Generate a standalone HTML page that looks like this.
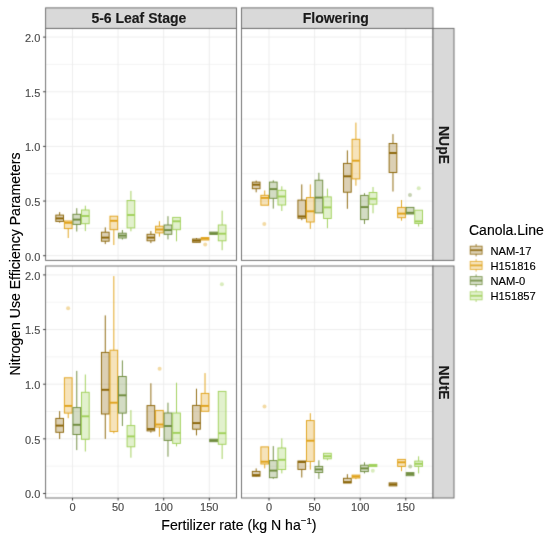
<!DOCTYPE html>
<html><head><meta charset="utf-8"><style>
html,body{margin:0;padding:0;background:#fff;width:550px;height:539px;overflow:hidden}
svg{display:block}
text{font-family:"Liberation Sans",Arial,sans-serif}
.st{font-size:14px;font-weight:bold;fill:#1a1a1a;stroke:#1a1a1a;stroke-width:0.15px}
.ax{font-size:11px;fill:#4d4d4d;stroke:#4d4d4d;stroke-width:0.15px}
.ti{font-size:14.1px;fill:#000;stroke:#000;stroke-width:0.15px}
.lt{font-size:14px;fill:#000;stroke:#000;stroke-width:0.15px}
.ll{font-size:11.2px;fill:#000;stroke:#000;stroke-width:0.15px}
</style></head><body>
<svg width="550" height="539" viewBox="0 0 550 539">
<defs><filter id="bl" x="0" y="0" width="550" height="539" filterUnits="userSpaceOnUse" color-interpolation-filters="sRGB"><feConvolveMatrix order="3" kernelMatrix="1 6 1 6 36 6 1 6 1" divisor="64" edgeMode="duplicate"/></filter></defs>
<g filter="url(#bl)">
<rect width="550" height="539" fill="#fff"/>
<line x1="45.6" x2="236.5" y1="228.38" y2="228.38" stroke="#ebebeb" stroke-width="0.6"/>
<line x1="45.6" x2="236.5" y1="173.72" y2="173.72" stroke="#ebebeb" stroke-width="0.6"/>
<line x1="45.6" x2="236.5" y1="119.07" y2="119.07" stroke="#ebebeb" stroke-width="0.6"/>
<line x1="45.6" x2="236.5" y1="64.42" y2="64.42" stroke="#ebebeb" stroke-width="0.6"/>
<line x1="45.6" x2="236.5" y1="255.7" y2="255.7" stroke="#ebebeb" stroke-width="0.9"/>
<line x1="45.6" x2="236.5" y1="201.05" y2="201.05" stroke="#ebebeb" stroke-width="0.9"/>
<line x1="45.6" x2="236.5" y1="146.4" y2="146.4" stroke="#ebebeb" stroke-width="0.9"/>
<line x1="45.6" x2="236.5" y1="91.75" y2="91.75" stroke="#ebebeb" stroke-width="0.9"/>
<line x1="45.6" x2="236.5" y1="37.1" y2="37.1" stroke="#ebebeb" stroke-width="0.9"/>
<line x1="72.5" x2="72.5" y1="28.4" y2="260.4" stroke="#ebebeb" stroke-width="0.9"/>
<line x1="118.1" x2="118.1" y1="28.4" y2="260.4" stroke="#ebebeb" stroke-width="0.9"/>
<line x1="163.7" x2="163.7" y1="28.4" y2="260.4" stroke="#ebebeb" stroke-width="0.9"/>
<line x1="209.3" x2="209.3" y1="28.4" y2="260.4" stroke="#ebebeb" stroke-width="0.9"/>
<g stroke="#8b6508" stroke-width="0.95">
<line x1="59.67" x2="59.67" y1="212.1" y2="215.1"/>
<line x1="59.67" x2="59.67" y1="221.4" y2="222.7"/>
<rect x="55.82" y="215.1" width="7.7" height="6.3" fill="#8b6508" fill-opacity="0.3"/>
<line x1="55.82" x2="63.52" y1="218.4" y2="218.4" stroke-width="1.9"/>
</g>
<g stroke="#e0a21a" stroke-width="0.95">
<line x1="68.23" x2="68.23" y1="228.6" y2="238"/>
<rect x="64.38" y="221" width="7.7" height="7.6" fill="#e0a21a" fill-opacity="0.3"/>
<line x1="64.38" x2="72.08" y1="222.8" y2="222.8" stroke-width="1.9"/>
</g>
<g stroke="#6e8b3d" stroke-width="0.95">
<line x1="76.78" x2="76.78" y1="208.2" y2="214.3"/>
<line x1="76.78" x2="76.78" y1="224.4" y2="231.5"/>
<rect x="72.93" y="214.3" width="7.7" height="10.1" fill="#6e8b3d" fill-opacity="0.3"/>
<line x1="72.93" x2="80.63" y1="219.6" y2="219.6" stroke-width="1.9"/>
</g>
<g stroke="#a0d05a" stroke-width="0.95">
<line x1="85.33" x2="85.33" y1="205.7" y2="210"/>
<line x1="85.33" x2="85.33" y1="223.7" y2="231.1"/>
<rect x="81.48" y="210" width="7.7" height="13.7" fill="#a0d05a" fill-opacity="0.3"/>
<line x1="81.48" x2="89.18" y1="216" y2="216" stroke-width="1.9"/>
</g>
<g stroke="#8b6508" stroke-width="0.95">
<line x1="105.28" x2="105.28" y1="227.4" y2="232.2"/>
<line x1="105.28" x2="105.28" y1="241.2" y2="244.1"/>
<rect x="101.43" y="232.2" width="7.7" height="9" fill="#8b6508" fill-opacity="0.3"/>
<line x1="101.43" x2="109.13" y1="237.6" y2="237.6" stroke-width="1.9"/>
</g>
<g stroke="#e0a21a" stroke-width="0.95">
<line x1="113.83" x2="113.83" y1="229.7" y2="245"/>
<rect x="109.98" y="216.2" width="7.7" height="13.5" fill="#e0a21a" fill-opacity="0.3"/>
<line x1="109.98" x2="117.68" y1="220.8" y2="220.8" stroke-width="1.9"/>
</g>
<g stroke="#6e8b3d" stroke-width="0.95">
<line x1="122.38" x2="122.38" y1="230" y2="233.2"/>
<line x1="122.38" x2="122.38" y1="238" y2="239.5"/>
<rect x="118.53" y="233.2" width="7.7" height="4.8" fill="#6e8b3d" fill-opacity="0.3"/>
<line x1="118.53" x2="126.23" y1="235.6" y2="235.6" stroke-width="1.9"/>
</g>
<g stroke="#a0d05a" stroke-width="0.95">
<line x1="130.92" x2="130.92" y1="190.9" y2="200.5"/>
<line x1="130.92" x2="130.92" y1="227.9" y2="231.3"/>
<rect x="127.07" y="200.5" width="7.7" height="27.4" fill="#a0d05a" fill-opacity="0.3"/>
<line x1="127.07" x2="134.77" y1="215" y2="215" stroke-width="1.9"/>
</g>
<g stroke="#8b6508" stroke-width="0.95">
<line x1="150.88" x2="150.88" y1="231.1" y2="234.3"/>
<line x1="150.88" x2="150.88" y1="240.8" y2="243.1"/>
<rect x="147.03" y="234.3" width="7.7" height="6.5" fill="#8b6508" fill-opacity="0.3"/>
<line x1="147.03" x2="154.72" y1="237.6" y2="237.6" stroke-width="1.9"/>
</g>
<g stroke="#e0a21a" stroke-width="0.95">
<line x1="159.42" x2="159.42" y1="221.2" y2="226.2"/>
<line x1="159.42" x2="159.42" y1="232.9" y2="236.6"/>
<rect x="155.57" y="226.2" width="7.7" height="6.7" fill="#e0a21a" fill-opacity="0.3"/>
<line x1="155.57" x2="163.27" y1="229.5" y2="229.5" stroke-width="1.9"/>
</g>
<g stroke="#6e8b3d" stroke-width="0.95">
<line x1="167.97" x2="167.97" y1="216.2" y2="225"/>
<line x1="167.97" x2="167.97" y1="234.3" y2="239.4"/>
<rect x="164.12" y="225" width="7.7" height="9.3" fill="#6e8b3d" fill-opacity="0.3"/>
<line x1="164.12" x2="171.82" y1="230.1" y2="230.1" stroke-width="1.9"/>
</g>
<g stroke="#a0d05a" stroke-width="0.95">
<line x1="176.53" x2="176.53" y1="229.7" y2="241.3"/>
<rect x="172.68" y="217.4" width="7.7" height="12.3" fill="#a0d05a" fill-opacity="0.3"/>
<line x1="172.68" x2="180.38" y1="221.3" y2="221.3" stroke-width="1.9"/>
</g>
<g stroke="#8b6508" stroke-width="0.95">
<line x1="196.48" x2="196.48" y1="238" y2="239"/>
<line x1="196.48" x2="196.48" y1="242.3" y2="242.5"/>
<rect x="192.63" y="239" width="7.7" height="3.3" fill="#8b6508" fill-opacity="0.3"/>
<line x1="192.63" x2="200.33" y1="240.6" y2="240.6" stroke-width="1.9"/>
</g>
<g stroke="#e0a21a" stroke-width="0.95">
<rect x="201.18" y="237.6" width="7.7" height="2.4" fill="#e0a21a" fill-opacity="0.3"/>
<line x1="201.18" x2="208.88" y1="238.6" y2="238.6" stroke-width="1.9"/>
</g>
<g stroke="#6e8b3d" stroke-width="0.95">
<rect x="209.73" y="232.1" width="7.7" height="2.3" fill="#6e8b3d" fill-opacity="0.3"/>
<line x1="209.73" x2="217.43" y1="233.3" y2="233.3" stroke-width="1.9"/>
</g>
<g stroke="#a0d05a" stroke-width="0.95">
<line x1="222.13" x2="222.13" y1="210.7" y2="225"/>
<line x1="222.13" x2="222.13" y1="240.8" y2="250.2"/>
<rect x="218.28" y="225" width="7.7" height="15.8" fill="#a0d05a" fill-opacity="0.3"/>
<line x1="218.28" x2="225.98" y1="233.7" y2="233.7" stroke-width="1.9"/>
</g>
<circle cx="205.2" cy="244.4" r="2" fill="#e0a21a" fill-opacity="0.4"/>
<rect x="45.6" y="28.4" width="190.9" height="232" fill="none" stroke="#6a6a6a" stroke-width="0.95"/>
<line x1="241.5" x2="433" y1="228.38" y2="228.38" stroke="#ebebeb" stroke-width="0.6"/>
<line x1="241.5" x2="433" y1="173.72" y2="173.72" stroke="#ebebeb" stroke-width="0.6"/>
<line x1="241.5" x2="433" y1="119.07" y2="119.07" stroke="#ebebeb" stroke-width="0.6"/>
<line x1="241.5" x2="433" y1="64.42" y2="64.42" stroke="#ebebeb" stroke-width="0.6"/>
<line x1="241.5" x2="433" y1="255.7" y2="255.7" stroke="#ebebeb" stroke-width="0.9"/>
<line x1="241.5" x2="433" y1="201.05" y2="201.05" stroke="#ebebeb" stroke-width="0.9"/>
<line x1="241.5" x2="433" y1="146.4" y2="146.4" stroke="#ebebeb" stroke-width="0.9"/>
<line x1="241.5" x2="433" y1="91.75" y2="91.75" stroke="#ebebeb" stroke-width="0.9"/>
<line x1="241.5" x2="433" y1="37.1" y2="37.1" stroke="#ebebeb" stroke-width="0.9"/>
<line x1="269" x2="269" y1="28.4" y2="260.4" stroke="#ebebeb" stroke-width="0.9"/>
<line x1="314.6" x2="314.6" y1="28.4" y2="260.4" stroke="#ebebeb" stroke-width="0.9"/>
<line x1="360.2" x2="360.2" y1="28.4" y2="260.4" stroke="#ebebeb" stroke-width="0.9"/>
<line x1="405.8" x2="405.8" y1="28.4" y2="260.4" stroke="#ebebeb" stroke-width="0.9"/>
<g stroke="#8b6508" stroke-width="0.95">
<line x1="256.18" x2="256.18" y1="180.6" y2="182.1"/>
<line x1="256.18" x2="256.18" y1="188.7" y2="192.3"/>
<rect x="252.33" y="182.1" width="7.7" height="6.6" fill="#8b6508" fill-opacity="0.3"/>
<line x1="252.33" x2="260.03" y1="184.7" y2="184.7" stroke-width="1.9"/>
</g>
<g stroke="#e0a21a" stroke-width="0.95">
<line x1="264.72" x2="264.72" y1="190.5" y2="195.3"/>
<rect x="260.87" y="195.3" width="7.7" height="9.9" fill="#e0a21a" fill-opacity="0.3"/>
<line x1="260.87" x2="268.57" y1="197.9" y2="197.9" stroke-width="1.9"/>
</g>
<g stroke="#6e8b3d" stroke-width="0.95">
<line x1="273.27" x2="273.27" y1="180.3" y2="182.1"/>
<line x1="273.27" x2="273.27" y1="198.3" y2="208.6"/>
<rect x="269.42" y="182.1" width="7.7" height="16.2" fill="#6e8b3d" fill-opacity="0.3"/>
<line x1="269.42" x2="277.12" y1="189.1" y2="189.1" stroke-width="1.9"/>
</g>
<g stroke="#a0d05a" stroke-width="0.95">
<line x1="281.82" x2="281.82" y1="186.3" y2="190.3"/>
<line x1="281.82" x2="281.82" y1="205" y2="211"/>
<rect x="277.97" y="190.3" width="7.7" height="14.7" fill="#a0d05a" fill-opacity="0.3"/>
<line x1="277.97" x2="285.67" y1="196.5" y2="196.5" stroke-width="1.9"/>
</g>
<g stroke="#8b6508" stroke-width="0.95">
<line x1="301.77" x2="301.77" y1="184.4" y2="200.1"/>
<line x1="301.77" x2="301.77" y1="218.2" y2="220.2"/>
<rect x="297.92" y="200.1" width="7.7" height="18.1" fill="#8b6508" fill-opacity="0.3"/>
<line x1="297.92" x2="305.62" y1="216.4" y2="216.4" stroke-width="1.9"/>
</g>
<g stroke="#e0a21a" stroke-width="0.95">
<line x1="310.32" x2="310.32" y1="184.4" y2="197.6"/>
<line x1="310.32" x2="310.32" y1="222" y2="228.9"/>
<rect x="306.47" y="197.6" width="7.7" height="24.4" fill="#e0a21a" fill-opacity="0.3"/>
<line x1="306.47" x2="314.17" y1="211.3" y2="211.3" stroke-width="1.9"/>
</g>
<g stroke="#6e8b3d" stroke-width="0.95">
<line x1="318.88" x2="318.88" y1="172.8" y2="180.2"/>
<rect x="315.02" y="180.2" width="7.7" height="32.7" fill="#6e8b3d" fill-opacity="0.3"/>
<line x1="315.02" x2="322.72" y1="197.6" y2="197.6" stroke-width="1.9"/>
</g>
<g stroke="#a0d05a" stroke-width="0.95">
<line x1="327.43" x2="327.43" y1="188.6" y2="196.9"/>
<line x1="327.43" x2="327.43" y1="218.5" y2="228.2"/>
<rect x="323.57" y="196.9" width="7.7" height="21.6" fill="#a0d05a" fill-opacity="0.3"/>
<line x1="323.57" x2="331.27" y1="207.4" y2="207.4" stroke-width="1.9"/>
</g>
<g stroke="#8b6508" stroke-width="0.95">
<line x1="347.37" x2="347.37" y1="150.4" y2="163.4"/>
<line x1="347.37" x2="347.37" y1="192.2" y2="208.8"/>
<rect x="343.52" y="163.4" width="7.7" height="28.8" fill="#8b6508" fill-opacity="0.3"/>
<line x1="343.52" x2="351.22" y1="176.3" y2="176.3" stroke-width="1.9"/>
</g>
<g stroke="#e0a21a" stroke-width="0.95">
<line x1="355.92" x2="355.92" y1="122.6" y2="139.3"/>
<line x1="355.92" x2="355.92" y1="178.9" y2="185.7"/>
<rect x="352.07" y="139.3" width="7.7" height="39.6" fill="#e0a21a" fill-opacity="0.3"/>
<line x1="352.07" x2="359.77" y1="160.7" y2="160.7" stroke-width="1.9"/>
</g>
<g stroke="#6e8b3d" stroke-width="0.95">
<line x1="364.47" x2="364.47" y1="193.2" y2="195.4"/>
<line x1="364.47" x2="364.47" y1="219.6" y2="224"/>
<rect x="360.62" y="195.4" width="7.7" height="24.2" fill="#6e8b3d" fill-opacity="0.3"/>
<line x1="360.62" x2="368.32" y1="207.1" y2="207.1" stroke-width="1.9"/>
</g>
<g stroke="#a0d05a" stroke-width="0.95">
<line x1="373.02" x2="373.02" y1="187" y2="192.5"/>
<line x1="373.02" x2="373.02" y1="204.2" y2="213.3"/>
<rect x="369.17" y="192.5" width="7.7" height="11.7" fill="#a0d05a" fill-opacity="0.3"/>
<line x1="369.17" x2="376.87" y1="198.8" y2="198.8" stroke-width="1.9"/>
</g>
<g stroke="#8b6508" stroke-width="0.95">
<line x1="392.97" x2="392.97" y1="134.1" y2="143.5"/>
<line x1="392.97" x2="392.97" y1="172.5" y2="191.5"/>
<rect x="389.12" y="143.5" width="7.7" height="29" fill="#8b6508" fill-opacity="0.3"/>
<line x1="389.12" x2="396.82" y1="153" y2="153" stroke-width="1.9"/>
</g>
<g stroke="#e0a21a" stroke-width="0.95">
<line x1="401.52" x2="401.52" y1="200" y2="207.4"/>
<line x1="401.52" x2="401.52" y1="217.7" y2="220.7"/>
<rect x="397.67" y="207.4" width="7.7" height="10.3" fill="#e0a21a" fill-opacity="0.3"/>
<line x1="397.67" x2="405.37" y1="213.6" y2="213.6" stroke-width="1.9"/>
</g>
<g stroke="#6e8b3d" stroke-width="0.95">
<rect x="406.22" y="207.4" width="7.7" height="6.6" fill="#6e8b3d" fill-opacity="0.3"/>
<line x1="406.22" x2="413.92" y1="212.8" y2="212.8" stroke-width="1.9"/>
</g>
<g stroke="#a0d05a" stroke-width="0.95">
<line x1="418.62" x2="418.62" y1="223.5" y2="226.5"/>
<rect x="414.77" y="210.2" width="7.7" height="13.3" fill="#a0d05a" fill-opacity="0.3"/>
<line x1="414.77" x2="422.47" y1="221.4" y2="221.4" stroke-width="1.9"/>
</g>
<circle cx="264.3" cy="224" r="2" fill="#e0a21a" fill-opacity="0.4"/>
<circle cx="410" cy="194.9" r="2" fill="#6e8b3d" fill-opacity="0.4"/>
<circle cx="418.7" cy="188.3" r="2" fill="#a0d05a" fill-opacity="0.4"/>
<rect x="241.5" y="28.4" width="191.5" height="232" fill="none" stroke="#6a6a6a" stroke-width="0.95"/>
<line x1="45.6" x2="236.5" y1="466.18" y2="466.18" stroke="#ebebeb" stroke-width="0.6"/>
<line x1="45.6" x2="236.5" y1="411.52" y2="411.52" stroke="#ebebeb" stroke-width="0.6"/>
<line x1="45.6" x2="236.5" y1="356.88" y2="356.88" stroke="#ebebeb" stroke-width="0.6"/>
<line x1="45.6" x2="236.5" y1="302.23" y2="302.23" stroke="#ebebeb" stroke-width="0.6"/>
<line x1="45.6" x2="236.5" y1="493.5" y2="493.5" stroke="#ebebeb" stroke-width="0.9"/>
<line x1="45.6" x2="236.5" y1="438.85" y2="438.85" stroke="#ebebeb" stroke-width="0.9"/>
<line x1="45.6" x2="236.5" y1="384.2" y2="384.2" stroke="#ebebeb" stroke-width="0.9"/>
<line x1="45.6" x2="236.5" y1="329.55" y2="329.55" stroke="#ebebeb" stroke-width="0.9"/>
<line x1="45.6" x2="236.5" y1="274.9" y2="274.9" stroke="#ebebeb" stroke-width="0.9"/>
<line x1="72.5" x2="72.5" y1="266" y2="498" stroke="#ebebeb" stroke-width="0.9"/>
<line x1="118.1" x2="118.1" y1="266" y2="498" stroke="#ebebeb" stroke-width="0.9"/>
<line x1="163.7" x2="163.7" y1="266" y2="498" stroke="#ebebeb" stroke-width="0.9"/>
<line x1="209.3" x2="209.3" y1="266" y2="498" stroke="#ebebeb" stroke-width="0.9"/>
<g stroke="#8b6508" stroke-width="0.95">
<line x1="59.67" x2="59.67" y1="411.1" y2="418.4"/>
<line x1="59.67" x2="59.67" y1="432.3" y2="439"/>
<rect x="55.82" y="418.4" width="7.7" height="13.9" fill="#8b6508" fill-opacity="0.3"/>
<line x1="55.82" x2="63.52" y1="425.6" y2="425.6" stroke-width="1.9"/>
</g>
<g stroke="#e0a21a" stroke-width="0.95">
<line x1="68.23" x2="68.23" y1="413.1" y2="418.2"/>
<rect x="64.38" y="377.8" width="7.7" height="35.3" fill="#e0a21a" fill-opacity="0.3"/>
<line x1="64.38" x2="72.08" y1="405.9" y2="405.9" stroke-width="1.9"/>
</g>
<g stroke="#6e8b3d" stroke-width="0.95">
<line x1="76.78" x2="76.78" y1="370.9" y2="407.6"/>
<line x1="76.78" x2="76.78" y1="434.5" y2="450.1"/>
<rect x="72.93" y="407.6" width="7.7" height="26.9" fill="#6e8b3d" fill-opacity="0.3"/>
<line x1="72.93" x2="80.63" y1="424.8" y2="424.8" stroke-width="1.9"/>
</g>
<g stroke="#a0d05a" stroke-width="0.95">
<line x1="85.33" x2="85.33" y1="374.5" y2="392.3"/>
<line x1="85.33" x2="85.33" y1="439.3" y2="451.5"/>
<rect x="81.48" y="392.3" width="7.7" height="47" fill="#a0d05a" fill-opacity="0.3"/>
<line x1="81.48" x2="89.18" y1="416.3" y2="416.3" stroke-width="1.9"/>
</g>
<g stroke="#8b6508" stroke-width="0.95">
<line x1="105.28" x2="105.28" y1="315.4" y2="352.4"/>
<line x1="105.28" x2="105.28" y1="414" y2="438.9"/>
<rect x="101.43" y="352.4" width="7.7" height="61.6" fill="#8b6508" fill-opacity="0.3"/>
<line x1="101.43" x2="109.13" y1="389.8" y2="389.8" stroke-width="1.9"/>
</g>
<g stroke="#e0a21a" stroke-width="0.95">
<line x1="113.83" x2="113.83" y1="276.1" y2="350.2"/>
<line x1="113.83" x2="113.83" y1="431.5" y2="433.4"/>
<rect x="109.98" y="350.2" width="7.7" height="81.3" fill="#e0a21a" fill-opacity="0.3"/>
<line x1="109.98" x2="117.68" y1="402.7" y2="402.7" stroke-width="1.9"/>
</g>
<g stroke="#6e8b3d" stroke-width="0.95">
<line x1="122.38" x2="122.38" y1="360.4" y2="376.5"/>
<line x1="122.38" x2="122.38" y1="413.1" y2="426"/>
<rect x="118.53" y="376.5" width="7.7" height="36.6" fill="#6e8b3d" fill-opacity="0.3"/>
<line x1="118.53" x2="126.23" y1="395.3" y2="395.3" stroke-width="1.9"/>
</g>
<g stroke="#a0d05a" stroke-width="0.95">
<line x1="130.92" x2="130.92" y1="410.1" y2="425.6"/>
<line x1="130.92" x2="130.92" y1="446.8" y2="457.7"/>
<rect x="127.07" y="425.6" width="7.7" height="21.2" fill="#a0d05a" fill-opacity="0.3"/>
<line x1="127.07" x2="134.77" y1="436.4" y2="436.4" stroke-width="1.9"/>
</g>
<g stroke="#8b6508" stroke-width="0.95">
<line x1="150.88" x2="150.88" y1="383.3" y2="405.6"/>
<line x1="150.88" x2="150.88" y1="430.9" y2="432.6"/>
<rect x="147.03" y="405.6" width="7.7" height="25.3" fill="#8b6508" fill-opacity="0.3"/>
<line x1="147.03" x2="154.72" y1="429" y2="429" stroke-width="1.9"/>
</g>
<g stroke="#e0a21a" stroke-width="0.95">
<line x1="159.42" x2="159.42" y1="427.1" y2="436.8"/>
<rect x="155.57" y="410.4" width="7.7" height="16.7" fill="#e0a21a" fill-opacity="0.3"/>
<line x1="155.57" x2="163.27" y1="424.5" y2="424.5" stroke-width="1.9"/>
</g>
<g stroke="#6e8b3d" stroke-width="0.95">
<line x1="167.97" x2="167.97" y1="402.7" y2="413"/>
<line x1="167.97" x2="167.97" y1="440.4" y2="456.7"/>
<rect x="164.12" y="413" width="7.7" height="27.4" fill="#6e8b3d" fill-opacity="0.3"/>
<line x1="164.12" x2="171.82" y1="426" y2="426" stroke-width="1.9"/>
</g>
<g stroke="#a0d05a" stroke-width="0.95">
<line x1="176.53" x2="176.53" y1="382.7" y2="413"/>
<line x1="176.53" x2="176.53" y1="443.4" y2="446.4"/>
<rect x="172.68" y="413" width="7.7" height="30.4" fill="#a0d05a" fill-opacity="0.3"/>
<line x1="172.68" x2="180.38" y1="432.9" y2="432.9" stroke-width="1.9"/>
</g>
<g stroke="#8b6508" stroke-width="0.95">
<line x1="196.48" x2="196.48" y1="388.7" y2="405.4"/>
<line x1="196.48" x2="196.48" y1="429.2" y2="435.4"/>
<rect x="192.63" y="405.4" width="7.7" height="23.8" fill="#8b6508" fill-opacity="0.3"/>
<line x1="192.63" x2="200.33" y1="423.1" y2="423.1" stroke-width="1.9"/>
</g>
<g stroke="#e0a21a" stroke-width="0.95">
<line x1="205.03" x2="205.03" y1="373.1" y2="393.4"/>
<rect x="201.18" y="393.4" width="7.7" height="17.9" fill="#e0a21a" fill-opacity="0.3"/>
<line x1="201.18" x2="208.88" y1="405.9" y2="405.9" stroke-width="1.9"/>
</g>
<g stroke="#6e8b3d" stroke-width="0.95">
<rect x="209.73" y="439.2" width="7.7" height="2.5" fill="#6e8b3d" fill-opacity="0.3"/>
<line x1="209.73" x2="217.43" y1="440.5" y2="440.5" stroke-width="1.9"/>
</g>
<g stroke="#a0d05a" stroke-width="0.95">
<line x1="222.13" x2="222.13" y1="444.3" y2="459"/>
<rect x="218.28" y="391.4" width="7.7" height="52.9" fill="#a0d05a" fill-opacity="0.3"/>
<line x1="218.28" x2="225.98" y1="433.2" y2="433.2" stroke-width="1.9"/>
</g>
<circle cx="68.1" cy="308.3" r="2" fill="#e0a21a" fill-opacity="0.4"/>
<circle cx="159.6" cy="368.8" r="2" fill="#e0a21a" fill-opacity="0.4"/>
<circle cx="221.9" cy="284.3" r="2" fill="#a0d05a" fill-opacity="0.4"/>
<rect x="45.6" y="266" width="190.9" height="232" fill="none" stroke="#6a6a6a" stroke-width="0.95"/>
<line x1="241.5" x2="433" y1="466.18" y2="466.18" stroke="#ebebeb" stroke-width="0.6"/>
<line x1="241.5" x2="433" y1="411.52" y2="411.52" stroke="#ebebeb" stroke-width="0.6"/>
<line x1="241.5" x2="433" y1="356.88" y2="356.88" stroke="#ebebeb" stroke-width="0.6"/>
<line x1="241.5" x2="433" y1="302.23" y2="302.23" stroke="#ebebeb" stroke-width="0.6"/>
<line x1="241.5" x2="433" y1="493.5" y2="493.5" stroke="#ebebeb" stroke-width="0.9"/>
<line x1="241.5" x2="433" y1="438.85" y2="438.85" stroke="#ebebeb" stroke-width="0.9"/>
<line x1="241.5" x2="433" y1="384.2" y2="384.2" stroke="#ebebeb" stroke-width="0.9"/>
<line x1="241.5" x2="433" y1="329.55" y2="329.55" stroke="#ebebeb" stroke-width="0.9"/>
<line x1="241.5" x2="433" y1="274.9" y2="274.9" stroke="#ebebeb" stroke-width="0.9"/>
<line x1="269" x2="269" y1="266" y2="498" stroke="#ebebeb" stroke-width="0.9"/>
<line x1="314.6" x2="314.6" y1="266" y2="498" stroke="#ebebeb" stroke-width="0.9"/>
<line x1="360.2" x2="360.2" y1="266" y2="498" stroke="#ebebeb" stroke-width="0.9"/>
<line x1="405.8" x2="405.8" y1="266" y2="498" stroke="#ebebeb" stroke-width="0.9"/>
<g stroke="#8b6508" stroke-width="0.95">
<line x1="256.18" x2="256.18" y1="468.4" y2="471.4"/>
<line x1="256.18" x2="256.18" y1="476.2" y2="476.5"/>
<rect x="252.33" y="471.4" width="7.7" height="4.8" fill="#8b6508" fill-opacity="0.3"/>
<line x1="252.33" x2="260.03" y1="475.1" y2="475.1" stroke-width="1.9"/>
</g>
<g stroke="#e0a21a" stroke-width="0.95">
<line x1="264.72" x2="264.72" y1="464" y2="468.4"/>
<rect x="260.87" y="446.9" width="7.7" height="17.1" fill="#e0a21a" fill-opacity="0.3"/>
<line x1="260.87" x2="268.57" y1="461.7" y2="461.7" stroke-width="1.9"/>
</g>
<g stroke="#6e8b3d" stroke-width="0.95">
<line x1="273.27" x2="273.27" y1="446.1" y2="460.6"/>
<line x1="273.27" x2="273.27" y1="477.7" y2="478.8"/>
<rect x="269.42" y="460.6" width="7.7" height="17.1" fill="#6e8b3d" fill-opacity="0.3"/>
<line x1="269.42" x2="277.12" y1="470.6" y2="470.6" stroke-width="1.9"/>
</g>
<g stroke="#a0d05a" stroke-width="0.95">
<line x1="281.82" x2="281.82" y1="438.4" y2="448"/>
<line x1="281.82" x2="281.82" y1="469.5" y2="473.4"/>
<rect x="277.97" y="448" width="7.7" height="21.5" fill="#a0d05a" fill-opacity="0.3"/>
<line x1="277.97" x2="285.67" y1="459.8" y2="459.8" stroke-width="1.9"/>
</g>
<g stroke="#8b6508" stroke-width="0.95">
<line x1="301.77" x2="301.77" y1="469.4" y2="477.5"/>
<rect x="297.92" y="461" width="7.7" height="8.4" fill="#8b6508" fill-opacity="0.3"/>
<line x1="297.92" x2="305.62" y1="462" y2="462" stroke-width="1.9"/>
</g>
<g stroke="#e0a21a" stroke-width="0.95">
<line x1="310.32" x2="310.32" y1="413.2" y2="420.6"/>
<line x1="310.32" x2="310.32" y1="461.4" y2="469.6"/>
<rect x="306.47" y="420.6" width="7.7" height="40.8" fill="#e0a21a" fill-opacity="0.3"/>
<line x1="306.47" x2="314.17" y1="440.7" y2="440.7" stroke-width="1.9"/>
</g>
<g stroke="#6e8b3d" stroke-width="0.95">
<line x1="318.88" x2="318.88" y1="460.3" y2="466.4"/>
<line x1="318.88" x2="318.88" y1="472.5" y2="478.9"/>
<rect x="315.02" y="466.4" width="7.7" height="6.1" fill="#6e8b3d" fill-opacity="0.3"/>
<line x1="315.02" x2="322.72" y1="469.4" y2="469.4" stroke-width="1.9"/>
</g>
<g stroke="#a0d05a" stroke-width="0.95">
<line x1="327.43" x2="327.43" y1="458.8" y2="460.3"/>
<rect x="323.57" y="453.3" width="7.7" height="5.5" fill="#a0d05a" fill-opacity="0.3"/>
<line x1="323.57" x2="331.27" y1="456.2" y2="456.2" stroke-width="1.9"/>
</g>
<g stroke="#8b6508" stroke-width="0.95">
<line x1="347.37" x2="347.37" y1="474.2" y2="478.3"/>
<rect x="343.52" y="478.3" width="7.7" height="4.7" fill="#8b6508" fill-opacity="0.3"/>
<line x1="343.52" x2="351.22" y1="482.1" y2="482.1" stroke-width="1.9"/>
</g>
<g stroke="#e0a21a" stroke-width="0.95">
<line x1="355.92" x2="355.92" y1="478" y2="479.2"/>
<rect x="352.07" y="475.1" width="7.7" height="2.9" fill="#e0a21a" fill-opacity="0.3"/>
<line x1="352.07" x2="359.77" y1="476.5" y2="476.5" stroke-width="1.9"/>
</g>
<g stroke="#6e8b3d" stroke-width="0.95">
<line x1="364.47" x2="364.47" y1="462.3" y2="465.2"/>
<line x1="364.47" x2="364.47" y1="471.6" y2="473.4"/>
<rect x="360.62" y="465.2" width="7.7" height="6.4" fill="#6e8b3d" fill-opacity="0.3"/>
<line x1="360.62" x2="368.32" y1="468.4" y2="468.4" stroke-width="1.9"/>
</g>
<g stroke="#a0d05a" stroke-width="0.95">
<rect x="369.17" y="464.4" width="7.7" height="2.2" fill="#a0d05a" fill-opacity="0.3"/>
<line x1="369.17" x2="376.87" y1="465.5" y2="465.5" stroke-width="1.9"/>
</g>
<g stroke="#8b6508" stroke-width="0.95">
<rect x="389.12" y="482.9" width="7.7" height="3" fill="#8b6508" fill-opacity="0.3"/>
<line x1="389.12" x2="396.82" y1="484.4" y2="484.4" stroke-width="1.9"/>
</g>
<g stroke="#e0a21a" stroke-width="0.95">
<line x1="401.52" x2="401.52" y1="466.4" y2="471.2"/>
<rect x="397.67" y="459.4" width="7.7" height="7" fill="#e0a21a" fill-opacity="0.3"/>
<line x1="397.67" x2="405.37" y1="462.3" y2="462.3" stroke-width="1.9"/>
</g>
<g stroke="#6e8b3d" stroke-width="0.95">
<rect x="406.22" y="472.6" width="7.7" height="3.1" fill="#6e8b3d" fill-opacity="0.3"/>
<line x1="406.22" x2="413.92" y1="474" y2="474" stroke-width="1.9"/>
</g>
<g stroke="#a0d05a" stroke-width="0.95">
<line x1="418.62" x2="418.62" y1="456.3" y2="461.1"/>
<line x1="418.62" x2="418.62" y1="466.4" y2="473.4"/>
<rect x="414.77" y="461.1" width="7.7" height="5.3" fill="#a0d05a" fill-opacity="0.3"/>
<line x1="414.77" x2="422.47" y1="463.8" y2="463.8" stroke-width="1.9"/>
</g>
<circle cx="264.5" cy="406.4" r="2" fill="#e0a21a" fill-opacity="0.4"/>
<circle cx="372.8" cy="470.7" r="2" fill="#a0d05a" fill-opacity="0.4"/>
<circle cx="410.2" cy="466.6" r="2" fill="#6e8b3d" fill-opacity="0.4"/>
<rect x="241.5" y="266" width="191.5" height="232" fill="none" stroke="#6a6a6a" stroke-width="0.95"/>
<rect x="45.6" y="7.9" width="190.9" height="20.5" fill="#d9d9d9" stroke="#6a6a6a" stroke-width="0.95"/>
<rect x="241.5" y="7.9" width="191.5" height="20.5" fill="#d9d9d9" stroke="#6a6a6a" stroke-width="0.95"/>
<rect x="433" y="28.4" width="21" height="232" fill="#d9d9d9" stroke="#6a6a6a" stroke-width="0.95"/>
<rect x="433" y="266" width="21" height="232" fill="#d9d9d9" stroke="#6a6a6a" stroke-width="0.95"/>
<line x1="43.1" x2="45.6" y1="255.7" y2="255.7" stroke="#333" stroke-width="0.95"/>
<line x1="43.1" x2="45.6" y1="201.05" y2="201.05" stroke="#333" stroke-width="0.95"/>
<line x1="43.1" x2="45.6" y1="146.4" y2="146.4" stroke="#333" stroke-width="0.95"/>
<line x1="43.1" x2="45.6" y1="91.75" y2="91.75" stroke="#333" stroke-width="0.95"/>
<line x1="43.1" x2="45.6" y1="37.1" y2="37.1" stroke="#333" stroke-width="0.95"/>
<line x1="43.1" x2="45.6" y1="493.5" y2="493.5" stroke="#333" stroke-width="0.95"/>
<line x1="43.1" x2="45.6" y1="438.85" y2="438.85" stroke="#333" stroke-width="0.95"/>
<line x1="43.1" x2="45.6" y1="384.2" y2="384.2" stroke="#333" stroke-width="0.95"/>
<line x1="43.1" x2="45.6" y1="329.55" y2="329.55" stroke="#333" stroke-width="0.95"/>
<line x1="43.1" x2="45.6" y1="274.9" y2="274.9" stroke="#333" stroke-width="0.95"/>
<line x1="72.5" x2="72.5" y1="498" y2="500.5" stroke="#333" stroke-width="0.95"/>
<line x1="118.1" x2="118.1" y1="498" y2="500.5" stroke="#333" stroke-width="0.95"/>
<line x1="163.7" x2="163.7" y1="498" y2="500.5" stroke="#333" stroke-width="0.95"/>
<line x1="209.3" x2="209.3" y1="498" y2="500.5" stroke="#333" stroke-width="0.95"/>
<line x1="269" x2="269" y1="498" y2="500.5" stroke="#333" stroke-width="0.95"/>
<line x1="314.6" x2="314.6" y1="498" y2="500.5" stroke="#333" stroke-width="0.95"/>
<line x1="360.2" x2="360.2" y1="498" y2="500.5" stroke="#333" stroke-width="0.95"/>
<line x1="405.8" x2="405.8" y1="498" y2="500.5" stroke="#333" stroke-width="0.95"/>
<g stroke="#8b6508" stroke-width="0.95" stroke-opacity="0.8">
<line x1="476.1" x2="476.1" y1="244" y2="246.2"/>
<line x1="476.1" x2="476.1" y1="254.2" y2="256.4"/>
<rect x="470.2" y="246.2" width="11.9" height="8" fill="#8b6508" fill-opacity="0.3"/>
<line x1="470.2" x2="482.1" y1="250.2" y2="250.2" stroke-width="1.9"/>
</g>
<g stroke="#e0a21a" stroke-width="0.95" stroke-opacity="0.8">
<line x1="476.1" x2="476.1" y1="259.2" y2="261.4"/>
<line x1="476.1" x2="476.1" y1="269.4" y2="271.6"/>
<rect x="470.2" y="261.4" width="11.9" height="8" fill="#e0a21a" fill-opacity="0.3"/>
<line x1="470.2" x2="482.1" y1="265.4" y2="265.4" stroke-width="1.9"/>
</g>
<g stroke="#6e8b3d" stroke-width="0.95" stroke-opacity="0.8">
<line x1="476.1" x2="476.1" y1="274.4" y2="276.6"/>
<line x1="476.1" x2="476.1" y1="284.6" y2="286.8"/>
<rect x="470.2" y="276.6" width="11.9" height="8" fill="#6e8b3d" fill-opacity="0.3"/>
<line x1="470.2" x2="482.1" y1="280.6" y2="280.6" stroke-width="1.9"/>
</g>
<g stroke="#a0d05a" stroke-width="0.95" stroke-opacity="0.8">
<line x1="476.1" x2="476.1" y1="289.6" y2="291.8"/>
<line x1="476.1" x2="476.1" y1="299.8" y2="302"/>
<rect x="470.2" y="291.8" width="11.9" height="8" fill="#a0d05a" fill-opacity="0.3"/>
<line x1="470.2" x2="482.1" y1="295.8" y2="295.8" stroke-width="1.9"/>
</g>
</g>
<text x="138.85" y="22.9" text-anchor="middle" class="st">5-6 Leaf Stage</text>
<text x="335.75" y="22.9" text-anchor="middle" class="st">Flowering</text>
<text transform="translate(438.5 145) rotate(90)" x="0" y="0" text-anchor="middle" class="st">NUpE</text>
<text transform="translate(438.5 382.6) rotate(90)" x="0" y="0" text-anchor="middle" class="st">NUtE</text>
<text x="40.3" y="260.6" text-anchor="end" class="ax">0.0</text>
<text x="40.3" y="205.95" text-anchor="end" class="ax">0.5</text>
<text x="40.3" y="151.3" text-anchor="end" class="ax">1.0</text>
<text x="40.3" y="96.65" text-anchor="end" class="ax">1.5</text>
<text x="40.3" y="42" text-anchor="end" class="ax">2.0</text>
<text x="40.3" y="498.4" text-anchor="end" class="ax">0.0</text>
<text x="40.3" y="443.75" text-anchor="end" class="ax">0.5</text>
<text x="40.3" y="389.1" text-anchor="end" class="ax">1.0</text>
<text x="40.3" y="334.45" text-anchor="end" class="ax">1.5</text>
<text x="40.3" y="279.8" text-anchor="end" class="ax">2.0</text>
<text x="72.5" y="511" text-anchor="middle" class="ax">0</text>
<text x="118.1" y="511" text-anchor="middle" class="ax">50</text>
<text x="163.7" y="511" text-anchor="middle" class="ax">100</text>
<text x="209.3" y="511" text-anchor="middle" class="ax">150</text>
<text x="269" y="511" text-anchor="middle" class="ax">0</text>
<text x="314.6" y="511" text-anchor="middle" class="ax">50</text>
<text x="360.2" y="511" text-anchor="middle" class="ax">100</text>
<text x="405.8" y="511" text-anchor="middle" class="ax">150</text>
<text x="238.9" y="529.6" text-anchor="middle" class="ti">Fertilizer rate (kg N ha<tspan dy="-5.2" font-size="9.6">−1</tspan><tspan dy="5.2">)</tspan></text>
<text transform="translate(20.1 264) rotate(-90)" text-anchor="middle" class="ti">Nitrogen Use Efficiency Parameters</text>
<text x="469" y="234.7" class="lt">Canola.Line</text>
<text x="490.4" y="254.7" class="ll">NAM-17</text>
<text x="490.4" y="269.9" class="ll">H151816</text>
<text x="490.4" y="285.1" class="ll">NAM-0</text>
<text x="490.4" y="300.3" class="ll">H151857</text>
</svg>
</body></html>
